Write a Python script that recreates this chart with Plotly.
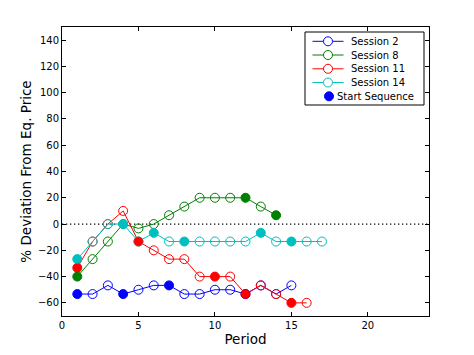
import plotly.graph_objects as go

# ---- data ----
periods_s2 = list(range(1, 16))
dev_s2 = [-53.3, -53.3, -46.7, -53.3, -50, -46.7, -46.7, -53.3, -53.3, -50, -50, -53.3, -46.7, -53.3, -46.7]
start_s2 = [1, 4, 7, 12]

periods_s8 = list(range(1, 15))
dev_s8 = [-40, -26.7, -13.3, 0, -3.3, 0, 6.7, 13.3, 20, 20, 20, 20, 13.3, 6.7]
start_s8 = [1, 12, 14]

periods_s11 = list(range(1, 17))
dev_s11 = [-33.3, -13.3, 0, 10, -13.3, -20, -26.7, -26.7, -40, -40, -40, -53.3, -46.7, -53.3, -60, -60]
start_s11 = [1, 5, 10, 12, 15]

periods_s14 = list(range(1, 18))
dev_s14 = [-26.7, -13.3, 0, 0, -13.3, -6.7, -13.3, -13.3, -13.3, -13.3, -13.3, -13.3, -6.7, -13.3, -13.3, -13.3, -13.3]
start_s14 = [1, 4, 6, 8, 13, 15]

session_names = ["Session 2", "Session 8", "Session 11", "Session 14"]
start_label = "Start Sequence"
x_ticks = [0, 5, 10, 15, 20]
y_ticks = [-60, -40, -20, 0, 20, 40, 60, 80, 100, 120, 140]

colors = ["#0000FF", "#008000", "#FF0000", "#00BFBF"]
sessions = [
    (session_names[0], periods_s2, dev_s2, start_s2, colors[0]),
    (session_names[1], periods_s8, dev_s8, start_s8, colors[1]),
    (session_names[2], periods_s11, dev_s11, start_s11, colors[2]),
    (session_names[3], periods_s14, dev_s14, start_s14, colors[3]),
]

FONT = "DejaVu Sans"
OFF = 8  # page body margin
W, H = 466, 347
ML, MR, MT, MB = 54, 45, 19, 39
PW, PH = W - ML - MR, H - MT - MB

fig = go.Figure()
for name, px, py, st, col in sessions:
    fig.add_trace(go.Scatter(
        x=px, y=py, mode="lines+markers", name=name, showlegend=False,
        line=dict(color=col, width=1),
        marker=dict(symbol="circle-open", size=9, color=col, line=dict(width=1)),
    ))

for i, (name, px, py, st, col) in enumerate(sessions):
    sy = [py[px.index(p)] for p in st]
    fig.add_trace(go.Scatter(
        x=st, y=sy, mode="markers", name=start_label, showlegend=False,
        marker=dict(symbol="circle", size=9, color=col),
    ))

# dotted zero line
fig.add_shape(type="line", xref="paper", x0=0, x1=1, yref="y", y0=0, y1=0,
              line=dict(color="black", width=1.3, dash="1.3px,2.7px"), layer="below")

# ---- legend (screen pixel positions converted to paper coords) ----
def pxx(x):
    return (x - OFF - ML) / PW

def pxy(y):
    return (H - MB - (y - OFF)) / PH

fig.add_shape(type="rect", xref="paper", yref="paper",
              x0=pxx(305), x1=pxx(424), y0=pxy(105), y1=pxy(32),
              line=dict(color="black", width=1), fillcolor="white", layer="above")
row_y = [41.3, 55.0, 68.8, 82.5, 96.3]
for i, name in enumerate(session_names):
    yy = pxy(row_y[i])
    fig.add_shape(type="line", xref="paper", yref="paper",
                  x0=pxx(312.5), x1=pxx(343.5), y0=yy, y1=yy,
                  line=dict(color=colors[i], width=1), layer="above")
    fig.add_shape(type="circle", xref="paper", yref="paper",
                  xsizemode="pixel", ysizemode="pixel",
                  xanchor=pxx(328), yanchor=yy, x0=-4.5, x1=4.5, y0=-4.5, y1=4.5,
                  line=dict(color=colors[i], width=1), fillcolor="white", layer="above")
    fig.add_annotation(xref="paper", yref="paper", x=pxx(349), y=yy,
                       xanchor="left", yanchor="middle", showarrow=False,
                       text=name, font=dict(family=FONT, size=10, color="black"))
yy = pxy(row_y[4])
fig.add_shape(type="circle", xref="paper", yref="paper",
              xsizemode="pixel", ysizemode="pixel",
              xanchor=pxx(329), yanchor=yy, x0=-4.5, x1=4.5, y0=-4.5, y1=4.5,
              line=dict(color=colors[0], width=1), fillcolor=colors[0], layer="above")
fig.add_annotation(xref="paper", yref="paper", x=pxx(334.5), y=yy,
                   xanchor="left", yanchor="middle", showarrow=False,
                   text=start_label, font=dict(family=FONT, size=10, color="black"))

axis_common = dict(
    showgrid=False, zeroline=False, showline=True, linecolor="black", linewidth=1,
    mirror="allticks", ticks="inside", ticklen=4, tickcolor="black", automargin=False,
    tickfont=dict(family=FONT, size=10, color="black"),
)
fig.update_xaxes(range=[0, 24], tickvals=x_ticks,
                 title=dict(text="Period", font=dict(family=FONT, size=13.5, color="black"), standoff=4),
                 **axis_common)
fig.update_yaxes(range=[-70, 150], tickvals=y_ticks,
                 title=dict(text="% Deviation From Eq. Price", font=dict(family=FONT, size=13.5, color="black"), standoff=3),
                 **axis_common)

fig.update_layout(
    width=W, height=H,
    margin=dict(l=ML, r=MR, t=MT, b=MB),
    plot_bgcolor="white", paper_bgcolor="white",
    font=dict(family=FONT, color="black"),
    showlegend=False,
)

fig.write_html("out.html")
